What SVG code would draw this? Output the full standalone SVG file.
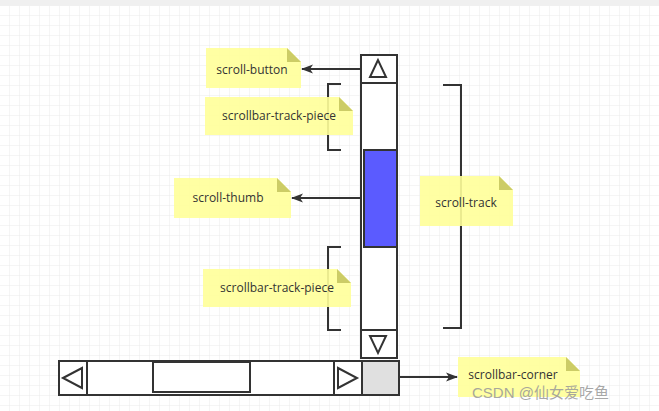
<svg xmlns="http://www.w3.org/2000/svg" width="659" height="411" viewBox="0 0 659 411">
<defs>
<pattern id="g" width="10" height="10" patternUnits="userSpaceOnUse" x="0" y="6"><path d="M10 0V10H0" fill="none" stroke="#ebebeb" stroke-width="1"/></pattern>
<marker id="a" viewBox="0 0 12 10" refX="11" refY="5" markerWidth="12" markerHeight="10" markerUnits="userSpaceOnUse" orient="auto"><path d="M0 0.5L12 5L0 9.5L3 5Z" fill="#333"/></marker>
</defs>
<style>
.s{fill:#fff;stroke:#333;stroke-width:2}
.n{fill:#ffff99;opacity:.9}
.f{fill:#cccc66}
.t{font-family:"Open Sans","Liberation Sans",sans-serif;font-size:12px;fill:#333;text-anchor:middle}
.c{fill:none;stroke:#333;stroke-width:2}
</style>
<rect width="659" height="411" fill="#fff"/>
<rect width="659" height="411" fill="url(#g)"/>
<rect width="659" height="6" fill="#f0f0f0"/>
<g id="vscroll">
<rect class="s" x="361" y="55" width="36" height="303"/>
<rect class="s" x="361" y="55" width="36" height="28"/>
<path class="c" d="M378 60L370 77H386Z"/>
<rect x="364" y="150" width="33" height="97" fill="#5b5bff" stroke="#333" stroke-width="2"/>
<rect class="s" x="361" y="330" width="36" height="28"/>
<path class="c" d="M370 336H386L378 353Z"/>
</g>
<g id="hscroll">
<rect class="s" x="59" y="361" width="303" height="34"/>
<rect class="s" x="59" y="361" width="28" height="34"/>
<path class="c" d="M63 378L82 368V388Z"/>
<rect class="s" x="153" y="362" width="97" height="30"/>
<rect class="s" x="334" y="361" width="28" height="34"/>
<path class="c" d="M338 368L357 378L338 388Z"/>
</g>
<g id="corner"><rect x="362" y="361" width="37" height="34" fill="#e0e0e0" stroke="#333" stroke-width="2"/></g>
<g id="brackets">
<path class="c" d="M341 84H328V150H341"/>
<path class="c" d="M341 247H328V330H341"/>
<path class="c" d="M443 85H461V328H443"/>
</g>
<g id="connectors">
<path class="c" d="M361 69H302" marker-end="url(#a)"/>
<path class="c" d="M361 198H292" marker-end="url(#a)"/>
<path class="c" d="M399 377H457" marker-end="url(#a)"/>
</g>
<g id="n1"><path class="n" d="M206 48H287L301 62V88H206Z"/><path class="f" d="M287 48L301 62H287Z"/><text class="t" x="252" y="74">scroll-button</text></g>
<g id="n2"><path class="n" d="M205 97H339L353 111V135H205Z"/><path class="f" d="M339 97L353 111H339Z"/><text class="t" x="279" y="120">scrollbar-track-piece</text></g>
<g id="n3"><path class="n" d="M174 178H277L291 192V218H174Z"/><path class="f" d="M277 178L291 192H277Z"/><text class="t" x="228" y="202">scroll-thumb</text></g>
<g id="n4"><path class="n" d="M420 176H499L513 190V226H420Z"/><path class="f" d="M499 176L513 190H499Z"/><text class="t" x="466" y="207">scroll-track</text></g>
<g id="n5"><path class="n" d="M203 269H337L351 283V307H203Z"/><path class="f" d="M337 269L351 283H337Z"/><text class="t" x="277" y="292">scrollbar-track-piece</text></g>
<g id="n6"><path class="n" d="M458 357H566L580 371V397H458Z"/><path class="f" d="M566 357L580 371H566Z"/><text class="t" x="513" y="379">scrollbar-corner</text></g>
<text x="472" y="398" font-family="'Liberation Sans','Noto Sans CJK SC',sans-serif" font-size="15" fill="#999" opacity=".85">CSDN @仙女爱吃鱼</text>
</svg>
